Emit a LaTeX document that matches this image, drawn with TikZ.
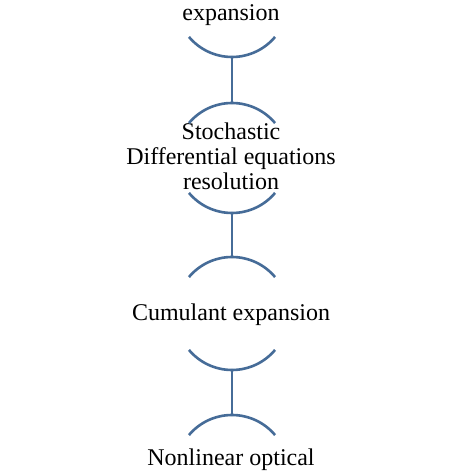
\documentclass[tikz,border=0pt]{standalone}
\usepackage{fontspec}
\setmainfont{Liberation Serif}
\definecolor{linkblue}{RGB}{70,108,152}
\tikzset{
  lbl/.style={anchor=base, inner sep=0pt, font=\fontsize{24}{25}\selectfont},
  link/.style={draw=linkblue, line width=2.6pt},
}
\begin{document}
\begin{tikzpicture}[x=1pt,y=1pt]
\useasboundingbox (0,0) rectangle (474,474);
\fill[white] (0,0) rectangle (474,474);
\begin{scope}
\clip (0,0) rectangle (474,474);
% text nodes (y = 474 - baseline from top)
\node[lbl] (t1) at (231,453.5) {expansion};
\node[lbl] (t2a) at (231,334.5) {Stochastic};
\node[lbl] (t2b) at (231,309.5) {Differential equations};
\node[lbl] (t2c) at (231,284.5) {resolution};
\node[lbl] (t3) at (231,153) {Cumulant expansion};
\node[lbl] (t4) at (231,9) {Nonlinear optical};
% connector end points
\coordinate (c1t) at (232,417);
\coordinate (c1b) at (232,371);
\coordinate (c2t) at (232,261);
\coordinate (c2b) at (232,217);
\coordinate (c3t) at (232,104);
\coordinate (c3b) at (232,59);
\foreach \t/\b in {c1t/c1b, c2t/c2b, c3t/c3b}{
  \draw[link] (\t) -- (\b);
  \draw[link] (\t) arc[start angle=270, end angle=220, radius=56.2];
  \draw[link] (\t) arc[start angle=270, end angle=320, radius=56.2];
  \draw[link] (\b) arc[start angle=90, end angle=140, radius=56.2];
  \draw[link] (\b) arc[start angle=90, end angle=40, radius=56.2];
}
\end{scope}
\end{tikzpicture}
\end{document}
